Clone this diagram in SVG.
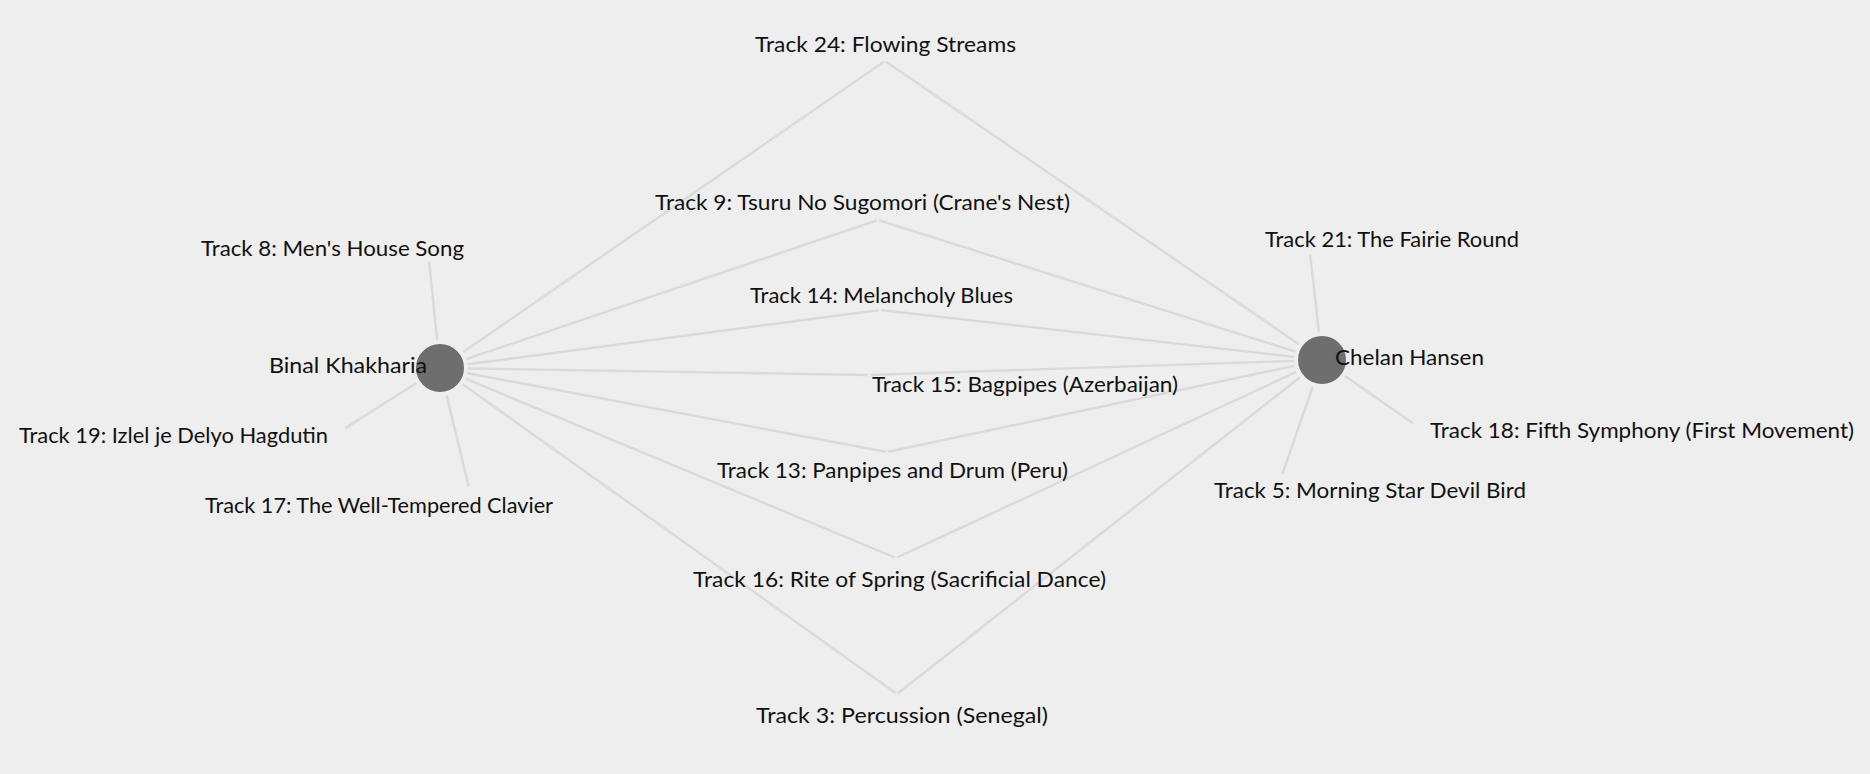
<svg xmlns="http://www.w3.org/2000/svg" width="1870" height="774" viewBox="0 0 1870 774">
<style>
.bg{fill:#eeeeee}
.edge{stroke:#dadada;stroke-width:2.4;fill:none}
.big{fill:#6e6e6e;stroke:#eeeeee;stroke-width:4}
.dot{fill:#eeeeee;stroke:none}
text{font-family:"Lato","Open Sans","DejaVu Sans",sans-serif;font-size:22px;fill:#111111}
</style>
<rect class="bg" x="0" y="0" width="1870" height="774"/>
<g id="edges">
<line class="edge" x1="440" y1="368" x2="429" y2="260"/>
<line class="edge" x1="440" y1="368" x2="344" y2="429"/>
<line class="edge" x1="440" y1="368" x2="469" y2="488"/>
<line class="edge" x1="440" y1="368" x2="885" y2="61"/>
<line class="edge" x1="440" y1="368" x2="878" y2="220"/>
<line class="edge" x1="440" y1="368" x2="880" y2="310"/>
<line class="edge" x1="440" y1="368" x2="869" y2="375"/>
<line class="edge" x1="440" y1="368" x2="887" y2="452"/>
<line class="edge" x1="440" y1="368" x2="896" y2="558"/>
<line class="edge" x1="440" y1="368" x2="897" y2="694"/>
<line class="edge" x1="1322" y1="360" x2="1310" y2="253"/>
<line class="edge" x1="1322" y1="360" x2="1414" y2="424"/>
<line class="edge" x1="1322" y1="360" x2="1282" y2="475"/>
<line class="edge" x1="1322" y1="360" x2="885" y2="61"/>
<line class="edge" x1="1322" y1="360" x2="878" y2="220"/>
<line class="edge" x1="1322" y1="360" x2="880" y2="310"/>
<line class="edge" x1="1322" y1="360" x2="869" y2="375"/>
<line class="edge" x1="1322" y1="360" x2="887" y2="452"/>
<line class="edge" x1="1322" y1="360" x2="896" y2="558"/>
<line class="edge" x1="1322" y1="360" x2="897" y2="694"/>
</g>
<g id="node-binal"><circle class="big" cx="440" cy="368" r="26"/><text x="269" y="373" textLength="158" lengthAdjust="spacingAndGlyphs">Binal Khakharia</text></g>
<g id="node-chelan"><circle class="big" cx="1322" cy="360" r="26"/><text x="1335" y="365" textLength="149" lengthAdjust="spacingAndGlyphs">Chelan Hansen</text></g>
<g id="node-t24"><circle class="dot" cx="885" cy="61" r="1.5"/><text x="755" y="52" textLength="261" lengthAdjust="spacingAndGlyphs">Track 24: Flowing Streams</text></g>
<g id="node-t9"><circle class="dot" cx="878" cy="220" r="1.5"/><text x="655" y="210" textLength="415" lengthAdjust="spacingAndGlyphs">Track 9: Tsuru No Sugomori (Crane's Nest)</text></g>
<g id="node-t14"><circle class="dot" cx="880" cy="310" r="1.5"/><text x="750" y="303" textLength="263" lengthAdjust="spacingAndGlyphs">Track 14: Melancholy Blues</text></g>
<g id="node-t15"><circle class="dot" cx="869" cy="375" r="1.5"/><text x="872" y="392" textLength="306" lengthAdjust="spacingAndGlyphs">Track 15: Bagpipes (Azerbaijan)</text></g>
<g id="node-t13"><circle class="dot" cx="887" cy="452" r="1.5"/><text x="717" y="478" textLength="351" lengthAdjust="spacingAndGlyphs">Track 13: Panpipes and Drum (Peru)</text></g>
<g id="node-t16"><circle class="dot" cx="896" cy="558" r="1.5"/><text x="693" y="587" textLength="413" lengthAdjust="spacingAndGlyphs">Track 16: Rite of Spring (Sacrificial Dance)</text></g>
<g id="node-t3"><circle class="dot" cx="897" cy="694" r="1.5"/><text x="756" y="723" textLength="292" lengthAdjust="spacingAndGlyphs">Track 3: Percussion (Senegal)</text></g>
<g id="node-t8"><circle class="dot" cx="429" cy="260" r="1.5"/><text x="201" y="256" textLength="263" lengthAdjust="spacingAndGlyphs">Track 8: Men's House Song</text></g>
<g id="node-t19"><circle class="dot" cx="344" cy="429" r="1.5"/><text x="19" y="443" textLength="309" lengthAdjust="spacingAndGlyphs">Track 19: Izlel je Delyo Hagdutin</text></g>
<g id="node-t17"><circle class="dot" cx="469" cy="488" r="1.5"/><text x="205" y="513" textLength="348" lengthAdjust="spacingAndGlyphs">Track 17: The Well-Tempered Clavier</text></g>
<g id="node-t21"><circle class="dot" cx="1310" cy="253" r="1.5"/><text x="1265" y="247" textLength="254" lengthAdjust="spacingAndGlyphs">Track 21: The Fairie Round</text></g>
<g id="node-t18"><circle class="dot" cx="1414" cy="424" r="1.5"/><text x="1430" y="438" textLength="424" lengthAdjust="spacingAndGlyphs">Track 18: Fifth Symphony (First Movement)</text></g>
<g id="node-t5"><circle class="dot" cx="1282" cy="475" r="1.5"/><text x="1214" y="498" textLength="312" lengthAdjust="spacingAndGlyphs">Track 5: Morning Star Devil Bird</text></g>
</svg>
